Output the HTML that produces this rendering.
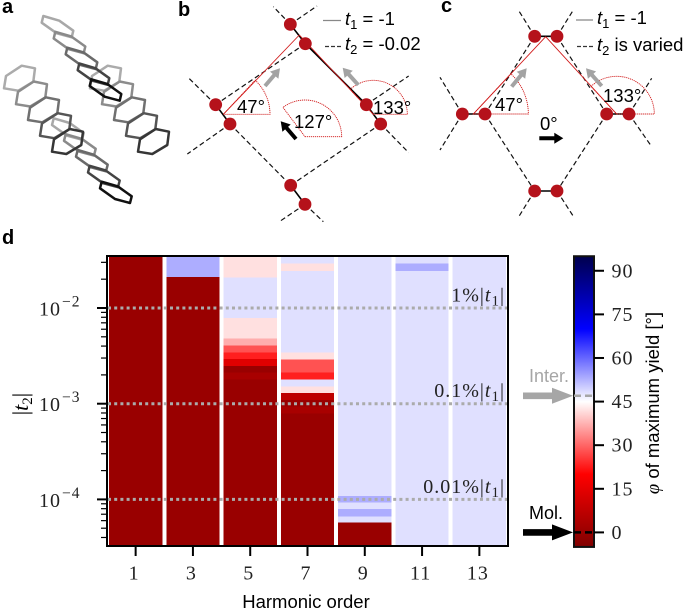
<!DOCTYPE html>
<html>
<head>
<meta charset="utf-8">
<style>
html,body{margin:0;padding:0;background:#fff;width:685px;height:610px;overflow:hidden}
svg{display:block;filter:blur(0.3px)}
.sans{font-family:"Liberation Sans",sans-serif}
.serif{font-family:"Liberation Serif",serif}
text{fill:#000}
.t{font-family:"Liberation Sans",sans-serif;font-size:18.5px}
.n{font-family:"Liberation Serif",serif;font-size:20px;letter-spacing:1px;fill:#222}
.L{font-family:"Liberation Sans",sans-serif;font-size:20px;font-weight:bold}
</style>
</head>
<body>
<svg id="fig" xmlns="http://www.w3.org/2000/svg" width="685" height="610" viewBox="0 0 685 610">
  <defs>
    <linearGradient id="cbar-gradient" x1="0" y1="0" x2="0" y2="1"></linearGradient>
  </defs>
  <g id="a"></g>
  <g id="b"></g>
  <g id="c"></g>
  <g id="d"></g>
  <g id="cb"></g>

  <text class="L" x="2" y="13">a</text>
  <text class="L" x="178" y="16">b</text>
  <text class="L" x="441" y="12">c</text>
  <text class="L" x="2" y="244">d</text>

  <text class="t" x="345" y="25"><tspan font-style="italic">t</tspan><tspan font-size="13" dy="4">1</tspan><tspan dy="-4"> = -1</tspan></text>
  <text class="t" x="345" y="50"><tspan font-style="italic">t</tspan><tspan font-size="13" dy="4">2</tspan><tspan dy="-4"> = -0.02</tspan></text>
  <text class="t" x="597" y="24"><tspan font-style="italic">t</tspan><tspan font-size="13" dy="4">1</tspan><tspan dy="-4"> = -1</tspan></text>
  <text class="t" x="597" y="51"><tspan font-style="italic">t</tspan><tspan font-size="13" dy="4">2</tspan><tspan dy="-4"> is varied</tspan></text>

  <text class="t" x="237" y="113">47°</text>
  <text class="t" x="373" y="114">133°</text>
  <text class="t" x="294" y="128">127°</text>
  <text class="t" x="495" y="111">47°</text>
  <text class="t" x="603" y="102">133°</text>
  <text class="t" x="540" y="130">0°</text>

  <text class="t" x="306" y="608" text-anchor="middle">Harmonic order</text>
  <text class="serif" transform="translate(28,404) rotate(-90)" text-anchor="middle" font-size="22">|<tspan font-style="italic">t</tspan><tspan font-size="15" dy="4">2</tspan><tspan dy="-4">|</tspan></text>
  <text class="t" transform="translate(659,403) rotate(-90)" text-anchor="middle"><tspan class="serif" font-style="italic" style="font-family:'Liberation Serif',serif">φ</tspan> of maximum yield [°]</text>
  <text class="t" x="529" y="382" style="fill:#a6a6a6;font-size:18px">Inter.</text>
  <text class="t" x="529" y="519" style="font-size:18px">Mol.</text>
</svg>
<script>
// ---- chart data ----
const harmonics = [1, 3, 5, 7, 9, 11, 13];
const xTickLabels = ["1", "3", "5", "7", "9", "11", "13"];
const phiH1 = [0];
const edgesH1 = [];
const phiH3 = [53, 0];
const edgesH3 = [0.0211];
const phiH5 = [42, 48, 42, 37, 28, 23, 14, 0, 3, 0];
const edgesH5 = [0.0208, 0.00787, 0.00482, 0.00404, 0.00344, 0.00293, 0.00249, 0.00211, 0.00178];
const phiH7 = [48, 42, 48, 42, 28, 23, 48, 42, 7, 0, 3, 0];
const edgesH7 = [0.0292, 0.0244, 0.00344, 0.00291, 0.00211, 0.00178, 0.00152, 0.00129, 0.00109, 0.000931, 0.000794];
const phiH9 = [48, 53, 48, 53, 48, 0];
const edgesH9 = [0.000109, 0.0000933, 0.0000794, 0.0000665, 0.0000571];
const phiH11 = [48, 53, 48];
const edgesH11 = [0.0292, 0.0244];
const phiH13 = [48];
const edgesH13 = [];
const yDecades = [-2, -3, -4];
const refLevels = [0.01, 0.001, 0.0001];
const refLabels = ["1%", "0.1%", "0.01%"];
const cbarTicks = [0, 15, 30, 45, 60, 75, 90];
const markerPhis = [47, 0];

const NS = "http://www.w3.org/2000/svg";
function mk(tag, parent, attrs) {
  const e = document.createElementNS(NS, tag);
  for (const k in attrs) e.setAttribute(k, attrs[k]);
  parent.appendChild(e);
  return e;
}
// axis functions
const xLeft = 107, xRight = 508, yTop = 256, yBottom = 546;
const xScale = h => xLeft + h * (xRight - xLeft) / 14;
const yScale = t => 308 - 95.7 * (Math.log10(t) + 2);
const cbarY = p => 532.4 - p * 2.907;
function cmap(p) {
  const t = (p + 5) / 100;
  let r, g, b;
  if (t < 0.25) { r = 0.5 + 2 * t; g = 0; b = 0; }
  else if (t < 0.5) { r = 1; g = b = (t - 0.25) / 0.25; }
  else if (t < 0.75) { r = g = 1 - (t - 0.5) / 0.25; b = 1; }
  else { r = 0; g = 0; b = 1 - 0.7 * (t - 0.75) / 0.25; }
  return "rgb(" + Math.round(r * 255) + "," + Math.round(g * 255) + "," + Math.round(b * 255) + ")";
}

// ---- heatmap ----
const d = document.getElementById("d");
const columns = [[phiH1, edgesH1], [phiH3, edgesH3], [phiH5, edgesH5], [phiH7, edgesH7], [phiH9, edgesH9], [phiH11, edgesH11], [phiH13, edgesH13]];
harmonics.forEach(function (h, i) {
  const phis = columns[i][0], edges = columns[i][1];
  phis.forEach(function (p, j) {
    const y0 = j === 0 ? yTop : yScale(edges[j - 1]);
    const y1 = j === phis.length - 1 ? yBottom : yScale(edges[j]);
    const r = mk("rect", d, { x: xScale(h - 1) + 2, y: y0, width: xScale(h + 1) - xScale(h - 1) - 4, height: y1 - y0, fill: cmap(p), "shape-rendering": "crispEdges" });
    
    
  });
});
refLevels.forEach(function (lv, i) {
  const y = yScale(lv);
  const l = mk("line", d, { x1: xLeft + 1, x2: xRight, y1: y, y2: y, stroke: "#ababab", "stroke-width": 3, "stroke-dasharray": "3 3.2" });
  
  
  const t = mk("text", d, { x: 505, y: y - 6.5, "text-anchor": "end", class: "n" });
  
  
  t.innerHTML = refLabels[i] + '|<tspan font-style="italic">t</tspan><tspan font-size="15" dy="4">1</tspan><tspan dy="-4">|</tspan>';
});
const frame = mk("rect", d, { x: xLeft, y: yTop, width: xRight - xLeft, height: yBottom - yTop, fill: "none", stroke: "#000", "stroke-width": 2 });


harmonics.forEach(function (h, i) {
  const x = xScale(h);
  const tk = mk("line", d, { x1: x, x2: x, y1: yBottom, y2: yBottom + 10, stroke: "#000", "stroke-width": 2 });
  
  
  const t = mk("text", d, { x: x - 1.5, y: 579.5, "text-anchor": "middle", class: "n" });
  
  
  t.textContent = xTickLabels[i];
});
yDecades.forEach(function (dec) {
  const y = yScale(Math.pow(10, dec));
  const tk = mk("line", d, { x1: xLeft - 10, x2: xLeft, y1: y, y2: y, stroke: "#000", "stroke-width": 2 });
  
  
  const t = mk("text", d, { x: 39, y: y + 7.5, class: "n" });
  
  
  t.innerHTML = '10<tspan font-size="15.5" dy="-9" dx="1">\u2212' + (-dec) + '</tspan>';
});
for (let dec = -5; dec <= -2; dec++) {
  for (let m = 2; m < 10; m++) {
    const y = yScale(m * Math.pow(10, dec));
    if (y < yTop || y > yBottom) continue;
    const tk = mk("line", d, { x1: xLeft - 6, x2: xLeft, y1: y, y2: y, stroke: "#000", "stroke-width": 1.2 });
    
    
  }
}

// ---- colorbar ----
const grad = document.getElementById("cbar-gradient");
[[95, 0], [70, .25], [45, .5], [20, .75], [-5, 1]].forEach(function (s) {
  mk("stop", grad, { offset: s[1], "stop-color": cmap(s[0]) });
});
const cb = document.getElementById("cb");
const cbX = 574, cbW = 20;
const cbRect = mk("rect", cb, { x: cbX, y: cbarY(95), width: cbW, height: cbarY(-5) - cbarY(95), fill: "url(#cbar-gradient)", stroke: "#111", "stroke-width": 2 });


cbarTicks.forEach(function (p) {
  const y = cbarY(p);
  const tk = mk("line", cb, { x1: cbX + cbW, x2: cbX + cbW + 10, y1: y, y2: y, stroke: "#000", "stroke-width": 2 });
  
  
  const t = mk("text", cb, { x: 611.5, y: y + 6.5, class: "n" });
  
  
  t.textContent = String(p);
});
markerPhis.forEach(function (p, i) {
  const col = i === 0 ? "#a6a6a6" : "#000";
  const y = cbarY(p);
  const m = mk("line", cb, { x1: cbX, x2: cbX + cbW, y1: y, y2: y, stroke: col, "stroke-width": 2.5, "stroke-dasharray": "7 4" });
  
  
  const ar = mk("path", cb, { d: "M523 " + (y - 3.3) + "H552V" + (y - 8) + "L573 " + y + "L552 " + (y + 8) + "V" + (y + 3.3) + "H523Z", fill: col });
  
  
});

// ---- panel a: molecules (zoom coordinates / 3) ----
const a = document.getElementById("a");
const wideHex = [[65,197],[105,205],[100,245],[55,272],[12,265],[18,228]];
const narrowHex = [[130,48],[178,62],[220,92],[215,112],[170,100],[125,68]];
const wideGreys = ["#ababab", "#8c8c8c", "#707070", "#555", "#363636"];
const narrowGreys = ["#a8a8a8", "#8a8a8a", "#6a6a6a", "#444", "#111"];
function chain(hex, ox, oy, sx, sy, greys, nm) {
  greys.forEach(function (g, i) {
    const pts = hex.map(function (v) { return ((v[0] + ox + i * sx) / 3).toFixed(1) + "," + ((v[1] + oy + i * sy) / 3).toFixed(1); }).join(" ");
    const pg = mk("polygon", a, { points: pts, fill: "none", stroke: g, "stroke-width": 2.5, "stroke-linejoin": "round" });
    
    
  });
}
chain(narrowHex, 31, 307, 36, 47.5, narrowGreys, 'molecule-lower-narrow');
chain(wideHex, 0, 0, 36, 47.5, wideGreys, 'molecule-lower-wide');
chain(wideHex, 258, 0, 36, 47.5, wideGreys, 'molecule-upper-wide');
chain(narrowHex, 0, 0, 36, 47.5, narrowGreys, 'molecule-upper-narrow');

// ---- panels b, c: lattices ----
function seg(g, ox, p, q, dashed, nm) {
  const l = mk("line", g, { x1: ox + p[0] / 3, y1: p[1] / 3, x2: ox + q[0] / 3, y2: q[1] / 3, stroke: dashed ? "#111" : "#000", "stroke-width": dashed ? 1.2 : 1.6 });
  if (dashed) l.setAttribute("stroke-dasharray", "5 3");
  
  
}
function sector(g, ox, c, r, deg, nm) {
  const cx = ox + c[0] / 3, cy = c[1] / 3, R = r / 3, th = deg * Math.PI / 180;
  const p = mk("path", g, { d: "M" + cx + " " + cy + "L" + (cx + R) + " " + cy + "A" + R + " " + R + " 0 0 0 " + (cx + R * Math.cos(th)) + " " + (cy - R * Math.sin(th)) + "Z", fill: "none", stroke: "#d01818", "stroke-width": 0.9, "stroke-dasharray": "1.2 0.8" });
  
  
}
function redLine(g, ox, p, q) {
  const l = mk("line", g, { x1: ox + p[0] / 3, y1: p[1] / 3, x2: ox + q[0] / 3, y2: q[1] / 3, stroke: "#d01818", "stroke-width": 0.9 });
  
  
}
function arrow(g, ox, p, q, col, nm) {
  const x1 = ox + p[0] / 3, y1 = p[1] / 3, x2 = ox + q[0] / 3, y2 = q[1] / 3;
  const dx = x2 - x1, dy = y2 - y1, L = Math.hypot(dx, dy), ux = dx / L, uy = dy / L, nx = -uy, ny = ux;
  const hl = 9, hw = 5.5, w = 2;
  const bx = x2 - ux * hl, by = y2 - uy * hl;
  const pts = [[x1 + nx * w, y1 + ny * w], [bx + nx * w, by + ny * w], [bx + nx * hw, by + ny * hw], [x2, y2], [bx - nx * hw, by - ny * hw], [bx - nx * w, by - ny * w], [x1 - nx * w, y1 - ny * w]];
  const pg = mk("polygon", g, { points: pts.map(function (v) { return v[0].toFixed(1) + "," + v[1].toFixed(1); }).join(" "), fill: col });
  
  
}
function atoms(g, ox, list) {
  list.forEach(function (v) {
    const c = mk("circle", g, { cx: ox + v[0] / 3, cy: v[1] / 3, r: 6.4, fill: "#b5121b" });
    
    
  });
}
function legendLine(g, x1, x2, y, dashed, nm) {
  const l = mk("line", g, { x1: x1, x2: x2, y1: y, y2: y, stroke: dashed ? "#333" : "#888", "stroke-width": 1.2 });
  if (dashed) l.setAttribute("stroke-dasharray", "4 2");
  
  
}

const b = document.getElementById("b");
const bOx = 170;
const bAtoms = [[361,73],[406,131],[137,314],[180,372],[589,314],[632,372],[362,556],[405,613]];
[[[361,73],[310,20]],[[361,73],[441,18]],[[406,131],[137,314]],[[137,314],[52,230]],[[180,372],[52,462]],[[180,372],[362,556]],[[362,556],[632,372]],[[632,372],[716,458]],[[589,314],[716,228]],[[405,613],[328,665]],[[405,613],[460,665]],[[406,131],[589,314]]].forEach(function (s) {
  seg(b, bOx, s[0], s[1], true, 'hopping-t2-bond');
});
[[[361,73],[406,131]],[[137,314],[180,372]],[[589,314],[632,372]],[[362,556],[405,613]]].forEach(function (s) {
  seg(b, bOx, s[0], s[1], false, 'hopping-t1-bond');
});
seg(b, bOx, [406,131], [589,314], false, 'hopping-bond-upper-right');
redLine(b, bOx, [160,343], [388,105]);
redLine(b, bOx, [388,105], [610,343]);
sector(b, bOx, [160,343], 140, 47);
sector(b, bOx, [610,343], 102, 133);
sector(b, bOx, [405,410], 110, 127);
atoms(b, bOx, bAtoms);
arrow(b, bOx, [285,258], [330,205], "#a3a3a3", 'polarization-arrow-47');
arrow(b, bOx, [565,255], [518,203], "#a3a3a3", 'polarization-arrow-133');
arrow(b, bOx, [378,417], [332,364], "#000", 'polarization-arrow-127');
legendLine(b, 323, 341, 20.5, false, 'legend-b-solid-line');
legendLine(b, 325, 341, 46.5, true, 'legend-b-dashed-line');

const c = document.getElementById("c");
const cOx = 430;
const cAtoms = [[314,109],[381,109],[97,342],[165,342],[530,342],[597,342],[314,573],[381,573]];
[[[314,109],[265,30]],[[381,109],[430,30]],[[314,109],[165,342]],[[381,109],[530,342]],[[97,342],[30,232]],[[97,342],[30,450]],[[165,342],[314,573]],[[530,342],[381,573]],[[597,342],[665,235]],[[597,342],[665,440]],[[314,573],[265,652]],[[381,573],[432,652]]].forEach(function (s) {
  seg(c, cOx, s[0], s[1], true, 'hopping-t2-bond');
});
[[[314,109],[381,109]],[[97,342],[165,342]],[[530,342],[597,342]],[[314,573],[381,573]]].forEach(function (s) {
  seg(c, cOx, s[0], s[1], false, 'hopping-t1-bond');
});
redLine(c, cOx, [130,342], [347,110]);
redLine(c, cOx, [347,110], [560,342]);
sector(c, cOx, [130,342], 165, 47);
sector(c, cOx, [560,342], 113, 133);
atoms(c, cOx, cAtoms);
arrow(c, cOx, [245,260], [290,205], "#a3a3a3", 'polarization-arrow-47');
arrow(c, cOx, [515,258], [468,205], "#a3a3a3", 'polarization-arrow-133');
arrow(c, cOx, [328,415], [400,415], "#000", 'polarization-arrow-0');
legendLine(c, 576, 593, 20, false, 'legend-c-solid-line');
legendLine(c, 577, 593, 46.5, true, 'legend-c-dashed-line');
</script>
</body>
</html>
